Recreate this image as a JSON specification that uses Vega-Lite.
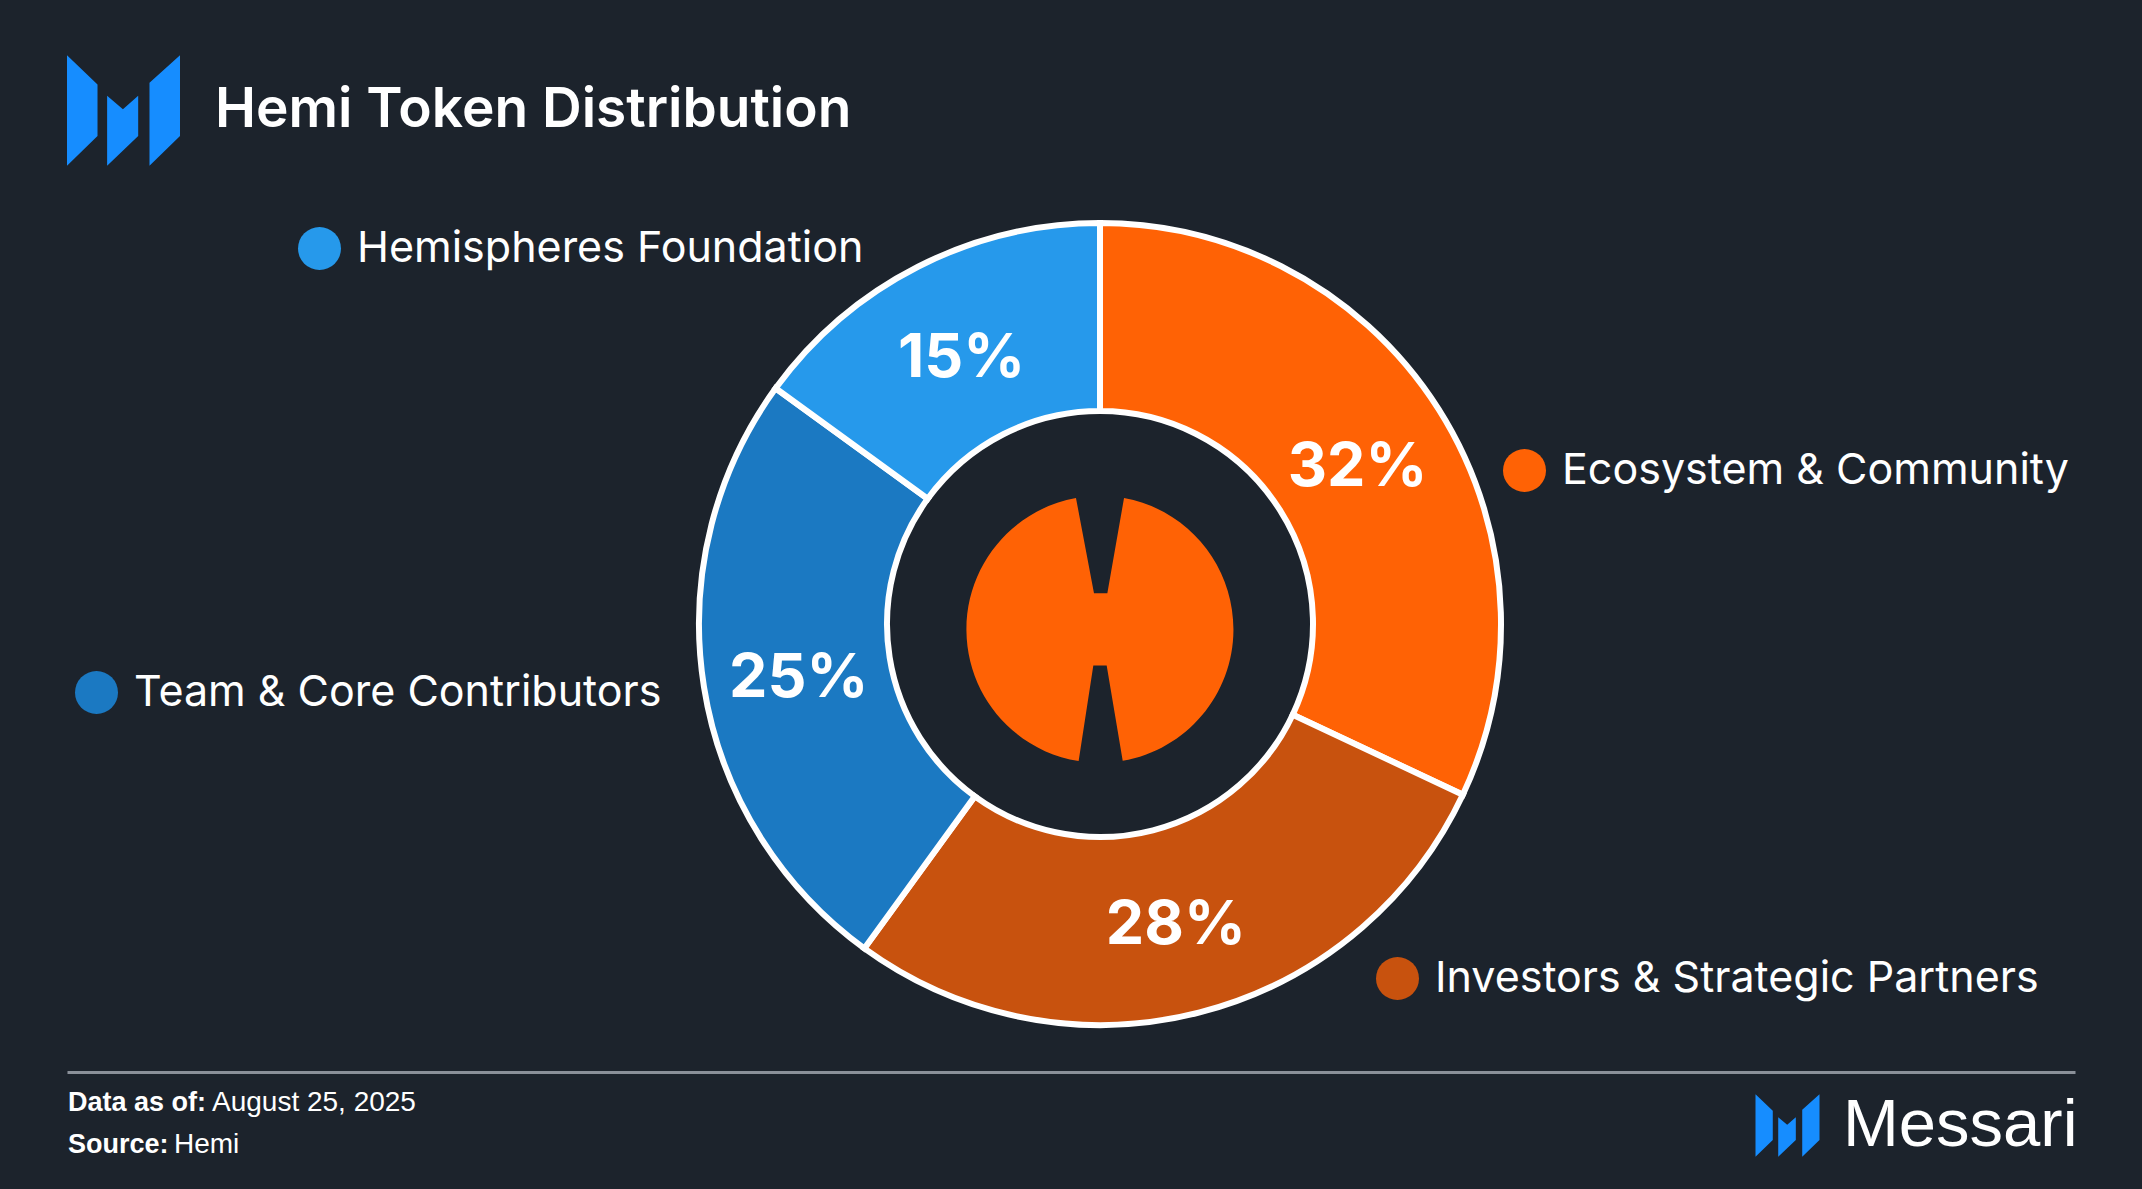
{
  "$schema": "https://vega.github.io/schema/vega-lite/v6.json",
  "width": 2084,
  "height": 1130,
  "autosize": {"type": "none"},
  "padding": {"left": 58, "top": 59, "right": 0, "bottom": 0},
  "background": "#1c232c",
  "title": {
    "text": "Hemi Token Distribution",
    "anchor": "start",
    "frame": "group",
    "orient": "top",
    "offset": 0,
    "dx": 157,
    "dy": 128,
    "baseline": "alphabetic",
    "font": "Inter",
    "fontSize": 55,
    "fontWeight": 600,
    "color": "#ffffff"
  },
  "config": {
    "view": {"stroke": null},
    "font": "Inter",
    "legend": {
      "orient": "none",
      "direction": "vertical",
      "padding": 0,
      "offset": 0,
      "labelLimit": 3000,
      "titleLimit": 3000,
      "symbolStrokeWidth": 0,
      "symbolOpacity": 1,
      "labelColor": "#ffffff",
      "titleColor": "#ffffff",
      "labelFont": "Inter",
      "labelFontSize": 43,
      "labelFontWeight": 400,
      "labelOffset": 16,
      "symbolType": "circle",
      "symbolSize": 1849
    }
  },
  "datasets": {
    "slices": [
      {"category": "Ecosystem & Community", "share": 0.32},
      {"category": "Investors & Strategic Partners", "share": 0.28},
      {"category": "Team & Core Contributors", "share": 0.25},
      {"category": "Hemispheres Foundation", "share": 0.15}
    ]
  },
  "layer": [
    {
      "data": {"name": "slices"},
      "mark": {"type": "arc", "outerRadius": 401, "innerRadius": 213, "stroke": "#ffffff", "strokeWidth": 6},
      "encoding": {
        "theta": {"field": "share", "type": "quantitative", "stack": true},
        "order": {"field": "share", "sort": "descending"},
        "color": {
          "field": "category",
          "type": "nominal",
          "scale": {
            "domain": ["Ecosystem & Community", "Investors & Strategic Partners", "Team & Core Contributors", "Hemispheres Foundation"],
            "range": ["#ff6205", "#c8520e", "#1b79c2", "#2699eb"]
          },
          "legend": null
        }
      }
    },
    {
      "data": {"name": "slices"},
      "mark": {"type": "text", "radius": 305, "dy": 7, "font": "Inter", "fontSize": 61, "fontWeight": "bold", "fill": "#ffffff", "align": "center", "baseline": "middle"},
      "encoding": {
        "theta": {"field": "share", "type": "quantitative", "stack": true},
        "order": {"field": "share", "sort": "descending"},
        "text": {"field": "share", "type": "quantitative", "format": ".0%"}
      }
    },
    {
      "data": {"values": [{"icon": "Hemi"}]},
      "mark": {
        "type": "point",
        "shape": "M0.18,-0.944A1,1,0,0,1,0.17,1.025L0.05,0.31L-0.05,0.31L-0.16,1.027A1,1,0,0,1,-0.18,-0.944L-0.045,-0.23L0.055,-0.23Z",
        "size": 71289,
        "filled": true,
        "fill": "#ff6205",
        "opacity": 1,
        "strokeWidth": 0
      },
      "encoding": {}
    },
    {
      "data": {"name": "slices"},
      "transform": [{"filter": "false"}],
      "mark": {"type": "point", "filled": true, "opacity": 1},
      "encoding": {
        "color": {
          "field": "category", "type": "nominal",
          "scale": {"domain": ["Hemispheres Foundation"], "range": ["#2699eb"]},
          "legend": {"title": null, "legendX": 240, "legendY": 168}
        }
      }
    },
    {
      "data": {"name": "slices"},
      "transform": [{"filter": "false"}],
      "mark": {"type": "point", "filled": true, "opacity": 1},
      "encoding": {
        "color": {
          "field": "category", "type": "nominal",
          "scale": {"domain": ["Ecosystem & Community"], "range": ["#ff6205"]},
          "legend": {"title": null, "legendX": 1445, "legendY": 390}
        }
      }
    },
    {
      "data": {"name": "slices"},
      "transform": [{"filter": "false"}],
      "mark": {"type": "point", "filled": true, "opacity": 1},
      "encoding": {
        "color": {
          "field": "category", "type": "nominal",
          "scale": {"domain": ["Investors & Strategic Partners"], "range": ["#c8520e"]},
          "legend": {"title": null, "legendX": 1318, "legendY": 898}
        }
      }
    },
    {
      "data": {"name": "slices"},
      "transform": [{"filter": "false"}],
      "mark": {"type": "point", "filled": true, "opacity": 1},
      "encoding": {
        "color": {
          "field": "category", "type": "nominal",
          "scale": {"domain": ["Team & Core Contributors"], "range": ["#1b79c2"]},
          "legend": {"title": null, "legendX": 17, "legendY": 612}
        }
      }
    },
    {
      "data": {"name": "slices"},
      "transform": [{"filter": "false"}],
      "mark": {"type": "point", "filled": true, "opacity": 1, "color": "#168dff"},
      "encoding": {
        "shape": {
          "datum": "Messari logo", "type": "nominal",
          "scale": {"domain": ["Messari logo"], "range": ["M-1,-0.98L-0.46,-0.46L-0.46,0.45L-1,0.98ZM-0.29,-0.26L-0.01,-0.02L0.26,-0.26L0.26,0.45L-0.29,0.98ZM0.46,-0.49L1,-0.98L1,0.45L0.46,0.98Z"]},
          "legend": {"title": null, "legendX": 9, "legendY": -5, "symbolSize": 12769, "symbolType": "M-1,-0.98L-0.46,-0.46L-0.46,0.45L-1,0.98ZM-0.29,-0.26L-0.01,-0.02L0.26,-0.26L0.26,0.45L-0.29,0.98ZM0.46,-0.49L1,-0.98L1,0.45L0.46,0.98Z", "symbolFillColor": "#168dff", "labelExpr": "''", "labelOffset": 0}
        }
      }
    },
    {
      "data": {"name": "slices"},
      "transform": [{"filter": "false"}],
      "mark": {"type": "point", "filled": true, "opacity": 1, "color": "#168dff"},
      "encoding": {
        "shape": {
          "datum": "Messari", "type": "nominal",
          "scale": {"domain": ["Messari"], "range": ["M-1,-0.98L-0.46,-0.46L-0.46,0.45L-1,0.98ZM-0.29,-0.26L-0.01,-0.02L0.26,-0.26L0.26,0.45L-0.29,0.98ZM0.46,-0.49L1,-0.98L1,0.45L0.46,0.98Z"]},
          "legend": {"title": null, "legendX": 1696, "legendY": 1033, "symbolSize": 4096, "symbolType": "M-1,-0.98L-0.46,-0.46L-0.46,0.45L-1,0.98ZM-0.29,-0.26L-0.01,-0.02L0.26,-0.26L0.26,0.45L-0.29,0.98ZM0.46,-0.49L1,-0.98L1,0.45L0.46,0.98Z", "symbolFillColor": "#168dff", "labelFont": "Liberation Sans", "labelFontSize": 67, "labelOffset": 22}
        }
      }
    },
    {
      "data": {"name": "slices"},
      "transform": [{"filter": "false"}],
      "mark": {"type": "point", "filled": true, "opacity": 1},
      "encoding": {
        "shape": {
          "datum": "August 25, 2025", "type": "nominal",
          "scale": {"domain": ["August 25, 2025"], "range": ["circle"]},
          "legend": {"title": "Data as of:", "titleOrient": "left", "titleFont": "Liberation Sans", "titleFontSize": 27, "titleFontWeight": "bold", "titlePadding": -23, "titleBaseline": "middle", "legendX": 10, "legendY": 1030, "symbolSize": 0, "symbolOpacity": 0, "labelOffset": 0, "labelFont": "Liberation Sans", "labelFontSize": 28}
        }
      }
    },
    {
      "data": {"name": "slices"},
      "transform": [{"filter": "false"}],
      "mark": {"type": "point", "filled": true, "opacity": 1},
      "encoding": {
        "shape": {
          "datum": "Hemi", "type": "nominal",
          "scale": {"domain": ["Hemi"], "range": ["circle"]},
          "legend": {"title": "Source:", "titleOrient": "left", "titleFont": "Liberation Sans", "titleFontSize": 27, "titleFontWeight": "bold", "titlePadding": -23, "titleBaseline": "middle", "legendX": 10, "legendY": 1072, "symbolSize": 0, "symbolOpacity": 0, "labelOffset": 0, "labelFont": "Liberation Sans", "labelFontSize": 28}
        }
      }
    },
    {
      "data": {"name": "slices"},
      "transform": [{"filter": "false"}],
      "mark": {"type": "rule"},
      "encoding": {
        "x": {
          "field": "share", "type": "quantitative",
          "scale": {"domain": [0, 1], "range": [9, 2017]},
          "axis": {"orient": "bottom", "offset": -117, "domain": true, "domainColor": "#8a9099", "domainWidth": 3, "ticks": false, "labels": false, "grid": false, "title": null}
        }
      }
    }
  ],
  "resolve": {
    "scale": {"color": "independent", "shape": "independent"},
    "legend": {"color": "independent", "shape": "independent"}
  }
}
